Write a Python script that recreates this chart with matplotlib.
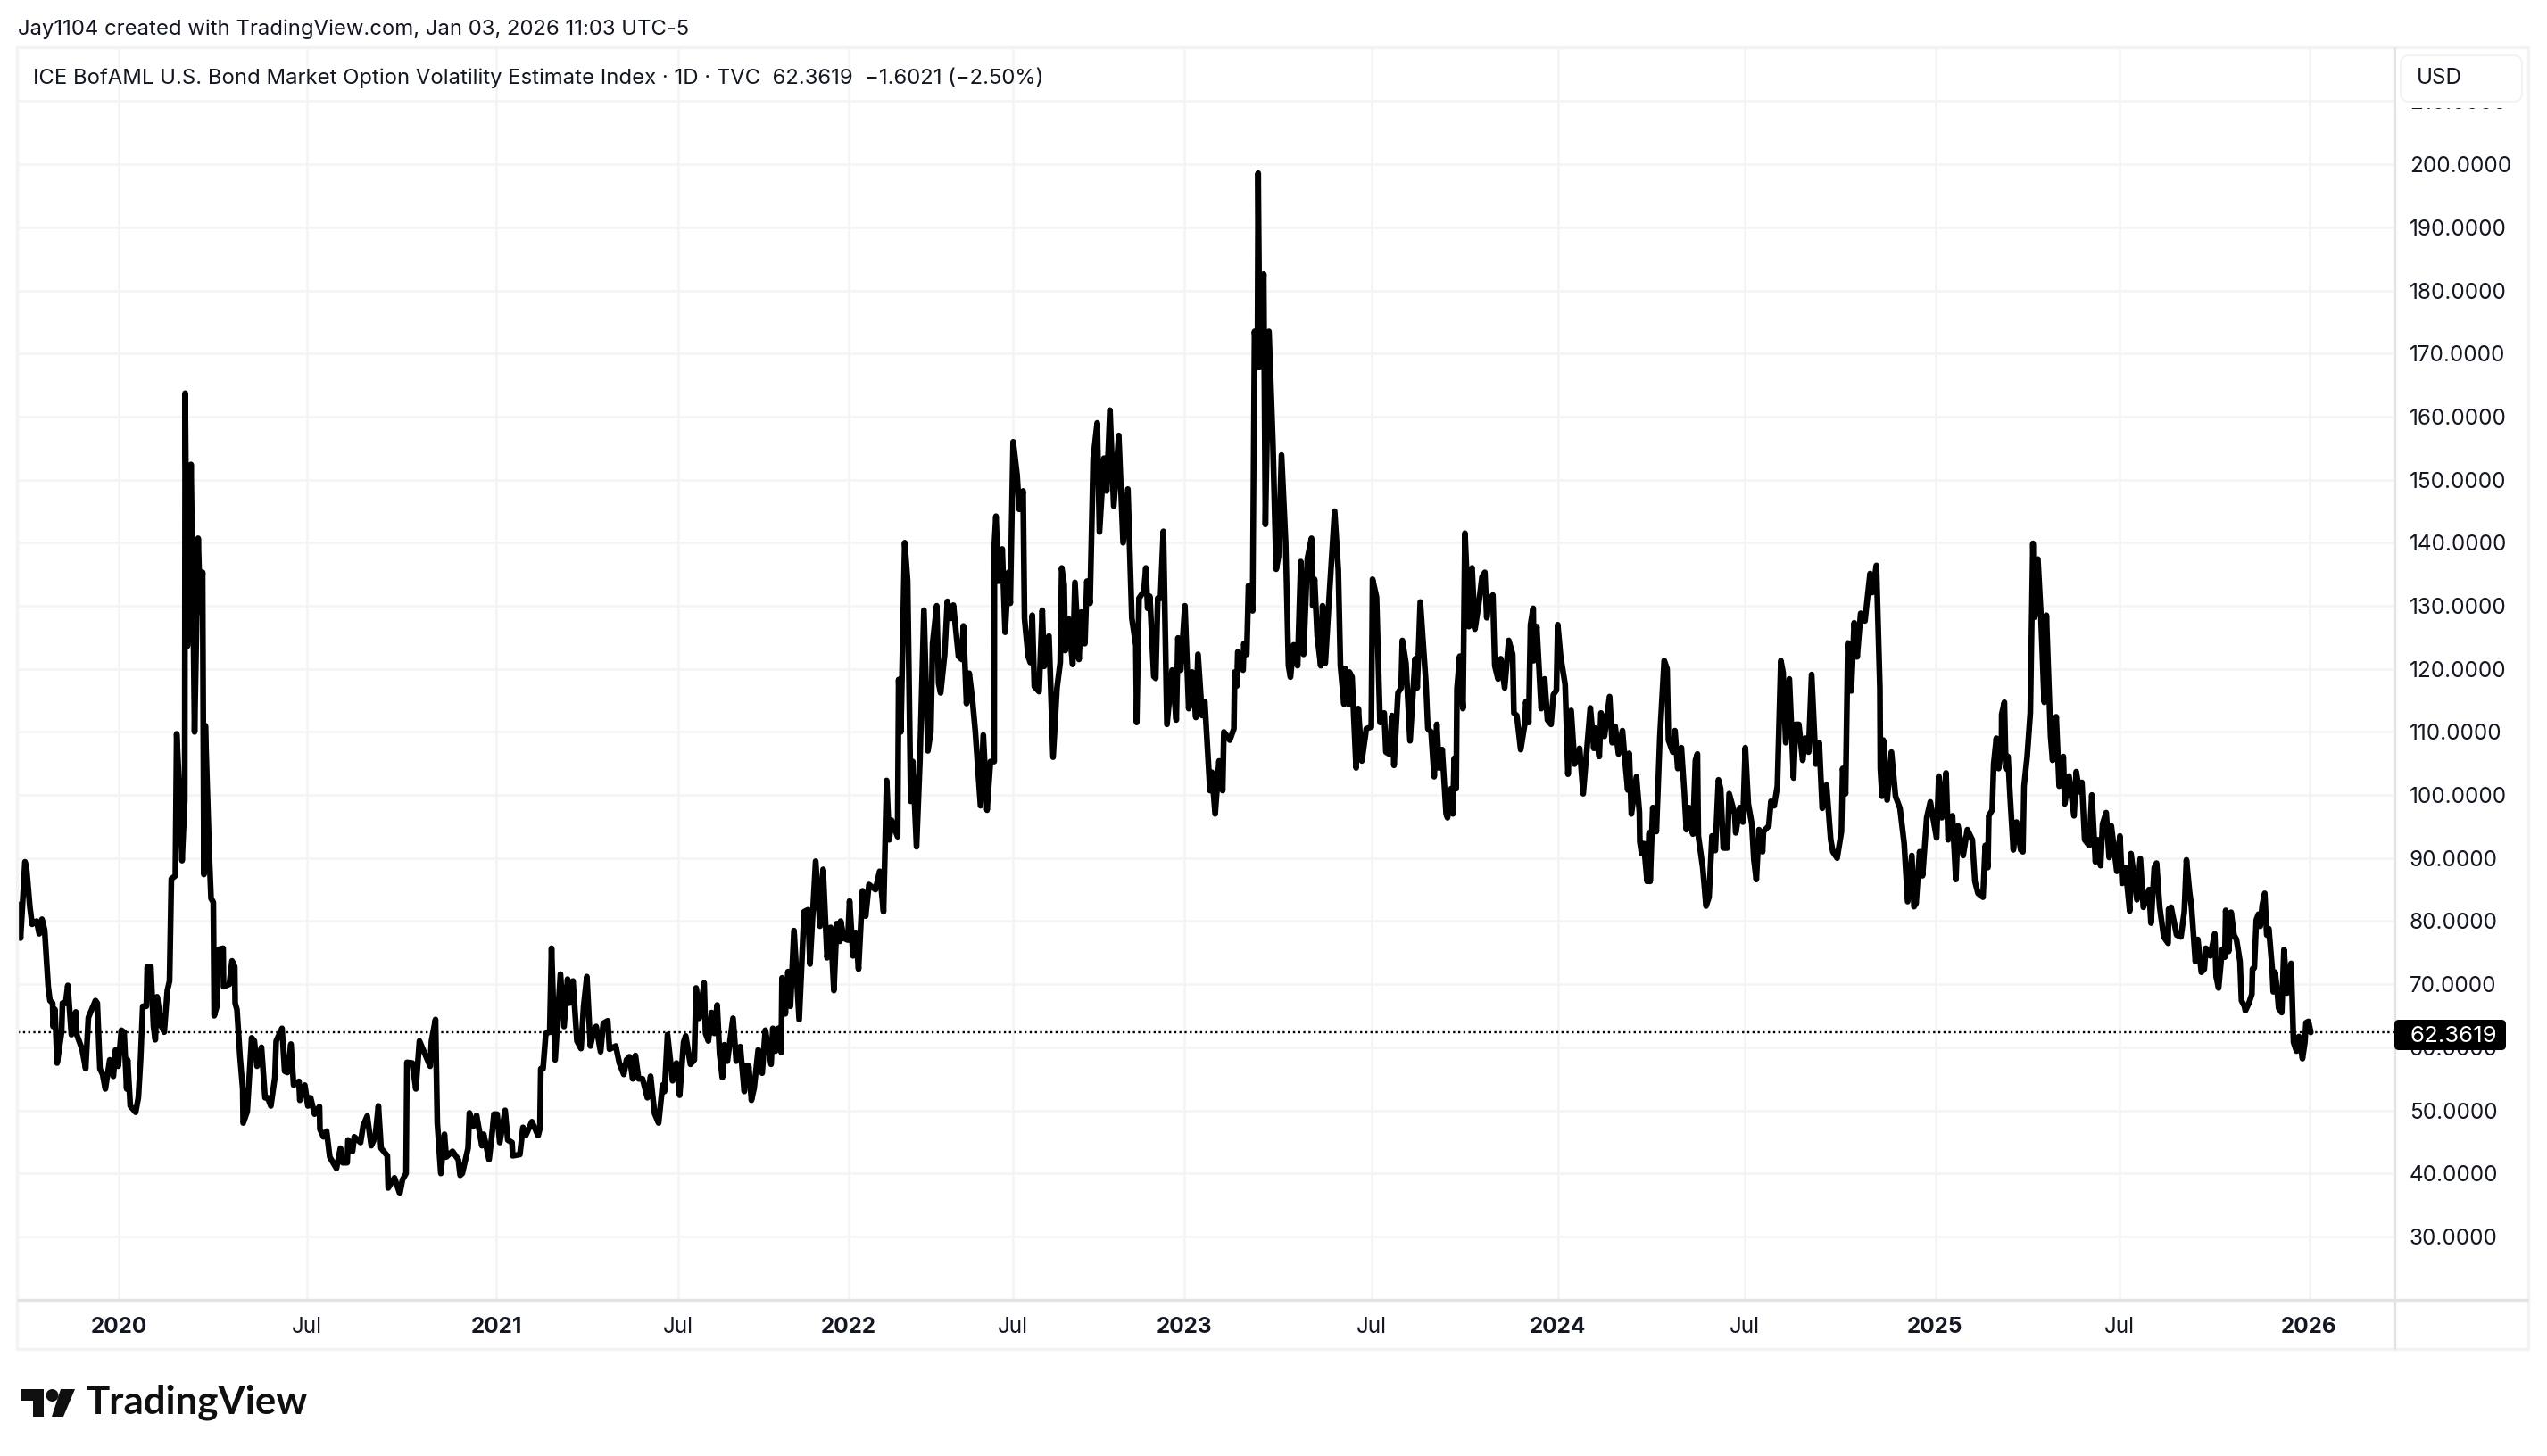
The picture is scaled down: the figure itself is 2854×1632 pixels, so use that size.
import matplotlib
matplotlib.use('Agg')

import numpy as np
import matplotlib.pyplot as plt
from matplotlib.lines import Line2D
from matplotlib.patches import Rectangle, FancyBboxPatch, Circle, Polygon

# time scale is index based (gaps in the feed), so x is a bar position on the scale
pos_2020 = [20, 23, 28, 30, 33.5, 36, 41, 44, 47, 50, 54, 56, 59, 59.5, 61.5, 64, 69, 70, 73.5, 76, 80, 85, 86, 92, 96, 99, 107, 109, 112, 115, 118, 123, 127, 129.5, 132.5, 136, 139, 142, 143, 146, 152, 155, 157.5, 160, 164, 165, 169, 172, 174, 176, 181, 184, 187.5, 190, 192, 196.5, 198, 201, 204, 207, 207.5, 210, 214, 216.5, 218, 222, 224.5, 227, 228.5, 230, 234.5, 236.5, 239, 240, 243, 244.5, 250, 250.5, 257, 260, 263, 263.5, 265.5, 269, 272, 272.5, 277, 282, 285, 288, 293, 297, 300, 303.5, 308, 309.5, 316, 319, 322, 326, 329, 335, 336, 341.5, 345, 348, 352.5, 358, 358.5, 362.5, 366, 369.5, 377, 381.5, 384, 389, 390, 395, 397, 404, 407, 411.5, 416, 420.5, 424, 427, 434, 435, 442, 448, 451, 455, 456, 462, 466, 470, 473, 482, 483.5, 488, 490, 494, 498, 500, 507, 513.5, 515.6, 518, 524.5, 526, 530, 534, 540, 542, 548, 551, 553.5]
val_2020 = [82.7, 77.3, 89.4, 88, 82.2, 79.5, 80, 78, 80.3, 78.6, 69.6, 67.4, 67, 63.3, 66, 57.5, 62.4, 67, 67, 69.8, 62, 65.6, 62, 59.7, 56.6, 64.7, 67.4, 67, 56.6, 55.7, 53.4, 58, 55.4, 59.6, 57, 62.7, 62.4, 53.4, 58, 50.7, 49.7, 52, 58, 66.5, 66.5, 72.8, 72.8, 63.3, 61.2, 68, 63.3, 62.4, 69, 70.5, 86.7, 87.2, 109.7, 101, 89.6, 99.3, 163.7, 123.6, 152.4, 129, 110, 140.7, 129, 135.3, 87.4, 111, 90.5, 83.6, 83, 65, 66.5, 75.5, 75.7, 69.6, 70, 73.7, 72.8, 67, 66, 58.4, 53.4, 48, 49.8, 61.5, 61, 57, 60, 52, 52, 50.7, 55.2, 61, 63, 56.2, 56, 60.5, 54, 54.6, 51.6, 54, 50.7, 52, 49.4, 50.6, 47, 45.8, 46.7, 42.6, 40.8, 44, 41.7, 41.7, 45.3, 43.5, 45.8, 44.9, 47.6, 49.1, 44.4, 45.8, 50.7, 44, 42.8, 37.7, 39.3, 36.8, 39, 40, 57.6, 57.5, 53.4, 61, 60, 57, 61, 64.4, 48, 40, 46.2, 42.6, 43.5, 42.2, 39.7, 40, 44, 49.6, 47.4, 49.2, 44.4, 46.2, 42.2, 45.8, 49.4]

pos_2021 = [557, 560, 566, 569, 573.7, 574.5, 582.5, 586, 589, 596, 603, 605, 606, 608.5, 611.6, 616, 618, 622, 628, 632, 636, 638, 642, 646.5, 651, 654, 657.6, 661.6, 665, 668, 673, 676, 681, 683, 690, 694, 699, 702, 705.4, 709, 712, 715.6, 720, 725.4, 729, 733.5, 738, 742.4, 744.6, 748, 753.6, 758, 761.6, 766, 768.3, 773.7, 778, 780, 783.5, 789, 790.6, 793.8, 797.3, 800.4, 803.6, 806.3, 809.4, 811.6, 815, 821.4, 825, 829.5, 834, 836, 839, 842, 845, 849.6, 854, 857.6, 864, 866, 869, 872, 875.4, 876.3, 880, 883, 885.7, 889.7, 895.5, 901, 905.4, 907.6, 914, 918.8, 922.3, 926.8, 930.8, 934.4, 937.5, 941, 942, 945.5, 950]
val_2021 = [49.4, 44.9, 50, 45.3, 44.9, 42.8, 43, 47.3, 46, 48.2, 46, 47.1, 56.6, 56.6, 62.2, 62.4, 75.7, 58, 71.6, 63.3, 70.8, 67, 70.5, 61, 59.8, 66.5, 71.2, 60.2, 62.5, 63.3, 59.3, 63.8, 64.2, 59.7, 60.2, 57.5, 55.7, 58, 58.5, 55, 58.7, 55, 55, 52, 55.4, 49.5, 48, 54, 53, 62, 54.7, 57.5, 52.4, 60.8, 61.8, 57.3, 58, 69.4, 64.6, 70.2, 62.2, 61, 65.5, 62.2, 66.7, 59, 55.2, 60.4, 57.8, 64.6, 57.8, 60.1, 53, 57, 57, 51.6, 53.5, 59.6, 55.9, 62.7, 57.3, 63, 59.4, 63, 59.2, 71, 65.3, 72, 66.5, 78.5, 64.4, 81.5, 81.8, 73.2, 89.5, 79.2, 88.2, 74.2, 79, 69, 79.6, 76.8, 80, 77.3, 77]

pos_2022 = [952, 955.8, 959, 962, 966.5, 970, 973.7, 981, 985.7, 990, 993.5, 996.4, 999, 1005.8, 1007, 1009.4, 1013.8, 1017, 1020.5, 1022.8, 1027, 1030.8, 1035.3, 1039.7, 1043, 1045, 1049.6, 1051.8, 1054, 1058.5, 1061.6, 1065, 1068.3, 1074, 1077.7, 1079.5, 1083, 1086, 1089.7, 1092.9, 1098.7, 1101.8, 1106, 1109.8, 1114, 1114.3, 1116, 1118.8, 1123, 1126.3, 1130, 1132, 1135.3, 1139.7, 1142, 1146.4, 1148, 1152, 1154.5, 1156.7, 1159, 1164.3, 1167.9, 1170, 1175.4, 1180, 1184.4, 1188, 1189.7, 1192.4, 1193.7, 1197, 1202, 1204.5, 1209, 1211.6, 1215.6, 1217.9, 1221.4, 1225, 1229.5, 1232, 1237, 1240, 1243.7, 1248, 1253.6, 1258.5, 1263.8, 1268.3, 1272.8, 1273.7, 1276.3, 1281.7, 1284, 1286, 1288.4, 1292.9, 1295, 1297.3, 1300.4, 1303.6, 1307.6, 1313.4, 1318, 1320, 1323]
val_2022 = [83.2, 74.5, 78.2, 72.4, 84.8, 80.8, 85.8, 85, 87.9, 81.5, 102.3, 92.9, 96, 93.4, 118.3, 110, 140, 134, 99, 105.3, 91.8, 105.6, 129.3, 107, 110, 124, 130, 117.7, 116.2, 122.3, 130.7, 128, 130.1, 122, 121.5, 126.8, 114.5, 119.3, 115, 110, 98.3, 109.5, 97.6, 105.3, 105.3, 139.9, 144.2, 133.9, 139, 125.8, 135.3, 130.4, 156, 150.7, 145.3, 148.2, 128, 122, 121, 128.5, 117.2, 116.4, 129.3, 120.4, 125.2, 106, 117, 121, 136, 133.4, 122.9, 128, 120.7, 133.7, 121.5, 129, 124, 133.9, 130.4, 153.4, 159, 141.7, 153.4, 148.2, 161, 145.8, 157, 140, 148.5, 128, 123.7, 111.5, 131.2, 132.3, 136, 129.6, 131.5, 118.8, 118.5, 131.2, 131.2, 141.8, 111.2, 119.8, 111.9, 124.9, 119.8]

pos_2023 = [1327.7, 1332, 1335.7, 1340, 1342.4, 1347, 1350, 1355.8, 1358, 1361.6, 1366, 1370, 1371.4, 1378, 1382.6, 1383.5, 1386, 1387, 1392.9, 1393.8, 1397, 1399, 1403.6, 1405.8, 1409, 1409.8, 1411.6, 1416, 1417.9, 1421.9, 1426.3, 1430, 1432.6, 1436, 1440.6, 1443.8, 1446, 1449.6, 1454, 1457.6, 1460.7, 1465, 1469.6, 1471, 1473, 1476, 1480, 1482, 1485, 1489.7, 1495.5, 1499.6, 1502, 1506, 1507.6, 1511, 1512, 1515, 1519.6, 1522, 1526, 1531, 1536.6, 1538, 1542.4, 1546.4, 1551, 1553, 1556.7, 1559.8, 1562, 1566.5, 1570, 1571.4, 1575.4, 1580, 1585.7, 1588, 1591.5, 1597.8, 1600, 1603.6, 1607, 1610, 1612.5, 1616, 1620.5, 1622, 1626, 1628, 1629.5, 1631.7, 1632.6, 1635.7, 1639.3, 1641.5, 1646, 1649.5, 1652.7, 1657, 1660.7, 1663.8, 1666, 1668.3, 1672.8, 1675, 1678.6, 1681.7, 1686, 1690.6, 1695, 1696.4, 1699.6, 1704, 1708.5, 1709.8, 1713, 1715, 1718, 1718.8, 1722, 1727, 1730.8, 1734, 1738, 1740.6, 1744]
val_2023 = [130, 113.7, 119.5, 112.3, 122.3, 112.6, 114.8, 100.7, 103.6, 97, 105.4, 100.7, 110, 108.7, 110.5, 119.5, 117.3, 122.7, 119.8, 124, 122.3, 133.2, 129.2, 173.5, 167.8, 198.6, 167.8, 182.6, 142.9, 173.5, 155.9, 135.8, 137.8, 153.9, 140, 120.5, 118.7, 123.8, 120.5, 137, 122.3, 137.5, 140.7, 130, 134.2, 125.2, 120.5, 130, 120.9, 132, 145, 135.7, 120.5, 114.4, 120, 114.4, 119.5, 118.7, 104.3, 113.7, 105.4, 110.5, 110.8, 134.2, 131.4, 111.5, 113, 106.8, 106.5, 112.6, 104.7, 116.2, 117, 124.5, 120.9, 108.6, 121.6, 117, 130.6, 117.7, 110.5, 110, 102.9, 111.2, 104.3, 107.2, 97, 96.4, 101, 97, 105.8, 101, 116.9, 122, 113.7, 141.5, 126.7, 136, 126.3, 130.3, 134.6, 135.3, 128.1, 131, 131.7, 120.5, 118.4, 121.6, 117, 124.5, 122.3, 113, 112.6, 107.2, 111.2, 114.8, 111.5, 127, 129.6, 121.3, 126.7, 113.7, 118.4, 111.9, 111.2, 115.9, 116.6]

pos_2024 = [1745.5, 1748.7, 1753.8, 1757, 1760.5, 1764.4, 1770, 1774, 1782, 1786, 1787.3, 1792, 1794, 1797.8, 1803.6, 1806.5, 1809.8, 1813.6, 1818, 1820.8, 1824, 1825.6, 1828, 1833.7, 1837, 1837.5, 1839.5, 1841.9, 1845.7, 1848, 1849, 1852, 1856, 1860, 1864.8, 1868, 1869.6, 1874.4, 1876.8, 1880, 1884, 1887.3, 1889.7, 1892.6, 1896.9, 1899.8, 1902, 1903, 1908, 1911.7, 1915, 1918.4, 1922, 1925.6, 1928, 1931, 1935.6, 1937.6, 1943.8, 1945, 1949.5, 1953, 1955.7, 1959, 1963, 1965.3, 1968, 1971, 1975, 1976, 1982, 1984.4, 1988, 1991.6, 1995.5, 1998, 2001, 2005, 2009.8, 2012, 2015.6, 2020, 2022.7, 2026.6, 2030, 2034.7, 2038.5, 2041.9, 2046.7, 2051.4, 2053.8, 2058.6, 2063.4, 2064.8, 2068, 2070.6, 2074.4, 2077.7, 2081, 2085, 2089.7, 2095.5, 2097.8, 2102.6, 2106.5, 2107, 2108.9, 2110.3, 2114.6, 2119.4, 2124, 2129, 2131.3, 2133.7, 2137.6, 2142.3, 2144.7, 2147, 2151, 2154.3, 2159, 2163]
val_2024 = [127, 122, 117.5, 103.3, 113.4, 104.9, 107.4, 100.2, 113.8, 107.4, 110.6, 106.1, 113, 109.3, 115.6, 108.3, 110.9, 106.5, 110.2, 105.5, 100.8, 106.6, 97, 102.9, 97.3, 92.6, 90.7, 92.3, 86.3, 94, 86.3, 98, 94.2, 109.3, 121.3, 120, 108.7, 106.8, 110.2, 104.2, 107.5, 100.5, 94.5, 98, 93.8, 105.5, 106.5, 93.5, 88.5, 82.4, 83.8, 93.5, 91.2, 102.4, 101, 91.6, 91.6, 100.2, 97, 94, 98, 95.7, 107.5, 98.6, 95.4, 89.7, 86.6, 94.5, 91, 94.2, 95.1, 99, 98.3, 101.4, 121.3, 119.4, 108.3, 118.4, 102.7, 111.2, 111.2, 105.5, 109, 106.8, 119.1, 104.9, 108.3, 97.9, 101.6, 92.9, 91, 90, 94.2, 104.2, 100.2, 124.1, 116.5, 127.3, 121.9, 128.8, 127.6, 135.1, 132.1, 136.4, 116.9, 104.2, 99.8, 108.7, 99.2, 106.8, 99.8, 97.9, 95.1, 92.3, 83.1, 90.4, 82.3, 82.8, 91, 87.2, 96.4, 98.9]

pos_2025 = [2170, 2172.5, 2175.8, 2180.6, 2183, 2187.8, 2191.6, 2194, 2199.8, 2204.5, 2210, 2213, 2216.5, 2222, 2224.6, 2227.5, 2228.5, 2232.3, 2234, 2237, 2239.5, 2242.8, 2243, 2246, 2247.6, 2250, 2252.4, 2256, 2259.6, 2264.3, 2266.7, 2268, 2271.5, 2275, 2278, 2280, 2283.5, 2286.8, 2290.7, 2293, 2297.8, 2300, 2304, 2307.4, 2312, 2313.6, 2318.4, 2324, 2326.5, 2330, 2332.8, 2336, 2341, 2344, 2348, 2350.5, 2353.8, 2356, 2360, 2363.4, 2365.8, 2372, 2375.4, 2378, 2381.6, 2386.4, 2387.8, 2394.5, 2398.3, 2401.7, 2408, 2410.3, 2414, 2416.5, 2420, 2424.6, 2429.4, 2430, 2432.8, 2439, 2443.8, 2447.6, 2450, 2453.4, 2455.7, 2460, 2462.7, 2466.7, 2470, 2471.7, 2476.7, 2481.7, 2483.3, 2486, 2490, 2493, 2494, 2497.3, 2500, 2503.3, 2506, 2510, 2511.7, 2515, 2516, 2520, 2523.3, 2524, 2526, 2528.3, 2530.7, 2532.7, 2535, 2537.7, 2540, 2542.3, 2546, 2547.3, 2549.3, 2551.7, 2553.3, 2556.7, 2559.3, 2562.7, 2567.3, 2570, 2573.3, 2576, 2580, 2582.7, 2584, 2586.7, 2589.3]
val_2025 = [93.2, 103, 96.4, 103.5, 92.9, 96.7, 86.6, 95.1, 90.4, 94.5, 92.9, 86.3, 84.4, 83.8, 92, 88.5, 96.7, 97.6, 104.9, 109, 104.2, 107.4, 112.8, 114.7, 104.2, 106.1, 99.8, 91.3, 95.7, 91.3, 91, 101.4, 106.1, 113, 139.9, 128.2, 137.4, 128.8, 114.7, 128.5, 109.3, 105.5, 112.4, 101.4, 106.1, 98.6, 103, 96.7, 103.7, 100.5, 102, 92.9, 92, 100, 89.4, 92.9, 88.8, 95.4, 97.2, 90.1, 95.1, 87.9, 93.5, 86, 88.5, 81.6, 90.7, 83.4, 89.9, 82.2, 85, 79.7, 88.5, 89.2, 82.2, 77.5, 76.5, 81.9, 82.2, 77.8, 77.5, 81.5, 89.7, 84.7, 82.2, 73.6, 77.1, 71.9, 72.4, 75.7, 74.5, 78, 71.2, 69.4, 75.5, 74.3, 81.7, 75.2, 81.4, 77.8, 77.1, 73.6, 67.4, 66.5, 65.8, 67, 68.4, 72.4, 72.6, 80.2, 81.1, 79.2, 82.6, 84.4, 77.8, 78.8, 72.6, 68.8, 71.9, 69, 66.2, 65.5, 75.5, 68.6, 73.3, 60.8, 59.4, 61.7, 58.2, 60.8, 63.9, 64.1, 62.3619]

last_price = 62.3619
price_ticks = [30, 40, 50, 60, 70, 80, 90, 100, 110, 120, 130, 140, 150, 160, 170, 180, 190, 200, 210]
time_ticks = [133, 344, 556, 760, 951, 1135, 1327, 1537, 1745.5, 1955, 2168.5, 2375, 2587.5]
time_labels = ['2020', 'Jul', '2021', 'Jul', '2022', 'Jul', '2023', 'Jul', '2024', 'Jul', '2025', 'Jul', '2026']

W, H = 2854, 1632
GRID = '#f4f4f5'
AXIS = '#e3e3e4'
BORDER = '#f3f3f4'
TEXT = '#131722'

plt.rcParams['font.family'] = ['Inter', 'DejaVu Sans']


def fx(x):
    return x / W


def fy(y):
    return 1 - y / H


def fig_line(x0, y0, x1, y1, color, lw):
    fig.add_artist(Line2D([fx(x0), fx(x1)], [fy(y0), fy(y1)], color=color, lw=lw, zorder=4,
                          solid_capstyle='butt'))


pos = pos_2020 + pos_2021 + pos_2022 + pos_2023 + pos_2024 + pos_2025
vals = val_2020 + val_2021 + val_2022 + val_2023 + val_2024 + val_2025

fig = plt.figure(figsize=(W / 100, H / 100), dpi=100, facecolor='white')
ax = fig.add_axes([fx(19.5), fy(1457), fx(2683 - 19.5), (1457 - 53) / H])
ax.set_xlim(19.5, 2683)
ax.set_ylim(19.95, 218.55)

ax.plot(pos, vals, color='black', lw=4.7, solid_joinstyle='round', solid_capstyle='round', zorder=3)
ax.axhline(last_price, color='black', lw=1.7, linestyle=(0, (1, 1.45)), zorder=2)

ax.set_yticks(price_ticks)
ax.set_yticklabels(['%.4f' % t for t in price_ticks])
ax.yaxis.tick_right()
ax.set_xticks(time_ticks)
ax.set_xticklabels(time_labels)
ax.grid(True, color=GRID, lw=1.8)
ax.set_axisbelow(True)
ax.tick_params(axis='y', length=0, pad=12.2, labelsize=17.5, labelcolor=TEXT)
ax.tick_params(axis='x', length=0, pad=14, labelsize=17.5, labelcolor=TEXT)
for lab in ax.get_xticklabels():
    if lab.get_text() != 'Jul':
        lab.set_fontweight('bold')
for s in ax.spines.values():
    s.set_visible(False)

# frame of the panes
fig.add_artist(Rectangle((fx(19), fy(1512)), fx(2833 - 19), (1512 - 53) / H, fill=False,
                         ec=BORDER, lw=2.4, zorder=4))
fig_line(2683, 53, 2683, 1512, AXIS, 2.4)
fig_line(19, 1457, 2833, 1457, AXIS, 2.4)

# currency button hides the top of the price scale
fig.add_artist(Rectangle((fx(2685), fy(121)), fx(146), 66 / H, fc='white', ec='none', zorder=5))
fig.add_artist(FancyBboxPatch((2694, H - 110), 128, 44, boxstyle='round,pad=4,rounding_size=10',
                              transform=None, fc='white', ec=BORDER, lw=1.5, zorder=6))
fig.text(fx(2708), fy(88), 'USD', fontsize=17.5, color=TEXT, ha='left', va='center', zorder=7)

# last price tag
fig.add_artist(FancyBboxPatch((2685, H - 1175), 121, 30, boxstyle='round,pad=2,rounding_size=5',
                              transform=None, fc='black', ec='none', zorder=6))
fig.text(fx(2700), fy(1161), '%.4f' % last_price, fontsize=18.6, color='white', ha='left',
         va='center', zorder=7)

fig.text(fx(20), fy(33), 'Jay1104 created with TradingView.com, Jan 03, 2026 11:03 UTC-5',
         fontsize=17.2, color=TEXT, ha='left', va='center')
fig.text(fx(37), fy(87), 'ICE BofAML U.S. Bond Market Option Volatility Estimate Index \u00b7 1D \u00b7 TVC  '
         '62.3619  \u22121.6021 (\u22122.50%)', fontsize=17.2, color=TEXT, ha='left', va='center', zorder=7)

# TradingView logo
logo_t = [(24, 1557), (48.5, 1557), (48.5, 1588), (37, 1588), (37, 1570), (24, 1570)]
logo_s = [(68, 1557), (84, 1557), (71, 1588), (58, 1588)]
for shape in (logo_t, logo_s):
    fig.add_artist(Polygon([(x, H - y) for x, y in shape], transform=None, fc='#0f0f0f', ec='none'))
fig.add_artist(Circle((58.5, H - 1564), 7, transform=None, fc='#0f0f0f', ec='none'))
fig.text(fx(96), fy(1572), 'TradingView', fontsize=31.5, fontweight='bold', color='#0f0f0f',
         ha='left', va='center', family=['Lato', 'DejaVu Sans'])

fig.savefig('out.png', dpi=100)
